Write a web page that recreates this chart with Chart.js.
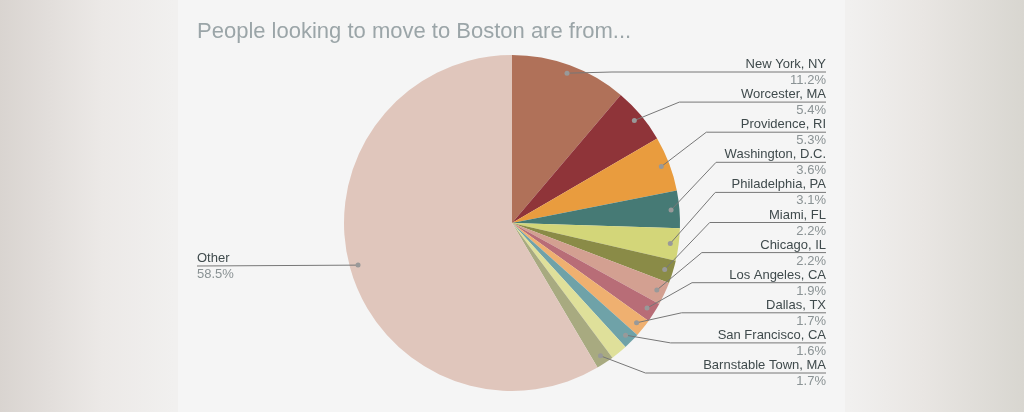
<!DOCTYPE html>
<html><head><meta charset="utf-8">
<script src="https://cdn.jsdelivr.net/npm/chart.js@4"></script>
<style>
html,body{margin:0;padding:0;width:1024px;height:412px;overflow:hidden;
background:linear-gradient(90deg,#d9d4d0 0%,#ece9e7 10%,#f1f0ef 17%,#f1f0ef 83%,#e9e6e3 90%,#d8d6d0 100%);}
#panel{position:absolute;left:178px;top:0;width:667px;height:412px;background:#f5f5f5;}
canvas{position:absolute;left:0;top:0;}
</style></head><body>
<div id="panel"></div>
<canvas id="c" width="1024" height="412"></canvas>
<script>
const categories=["New York, NY","Worcester, MA","Providence, RI","Washington, D.C.","Philadelphia, PA","Miami, FL","Chicago, IL","Los Angeles, CA","Dallas, TX","San Francisco, CA","","Barnstable Town, MA","Other"];
const values=[11.2,5.4,5.3,3.6,3.1,2.2,2.2,1.9,1.7,1.6,1.6,1.7,58.5];
const colors=["#b07159","#8f3439","#e99c3e","#467a75","#d3d679","#8a8b47","#d3a091","#b86d77","#efb070","#6fa2a8","#dfe09a","#a8aa80","#e0c6bc"];
const titleText="People looking to move to Boston are from...";
const labelPlugin={id:'lbl',afterDatasetsDraw(chart){
 const ctx=chart.ctx,meta=chart.getDatasetMeta(0);
 ctx.save();
 ctx.font='22px "Liberation Sans", Arial';ctx.fillStyle='#9ba5a8';ctx.textBaseline='alphabetic';ctx.textAlign='left';
 ctx.fillText(titleText,197,38);
 let k=0;
 meta.data.forEach((arc,i)=>{
  if(!categories[i])return;
  const mid=(arc.startAngle+arc.endAngle)/2,r=arc.outerRadius*0.95;
  const dx=arc.x+Math.cos(mid)*r,dy=arc.y+Math.sin(mid)*r;
  ctx.strokeStyle='#777';ctx.lineWidth=1;ctx.fillStyle='#888';
  ctx.font='13px "Liberation Sans", Arial';
  let ly,tx,align,kx;
  if(categories[i]==="Other"){ly=266;tx=197;align='left';
   ctx.beginPath();ctx.moveTo(dx,dy);ctx.lineTo(197,ly);ctx.stroke();
  } else {ly=72+k*30.1;tx=826;align='right';k++;
   kx=Math.min(dx+45,826);
   ctx.beginPath();ctx.moveTo(dx,dy);ctx.lineTo(kx,ly);ctx.lineTo(826,ly);ctx.stroke();}
  ctx.beginPath();ctx.fillStyle='#999';ctx.arc(dx,dy,2.5,0,Math.PI*2);ctx.fill();
  ctx.textAlign=align;ctx.fillStyle='#3f4a4c';ctx.fillText(categories[i],tx,ly-4);
  ctx.fillStyle='#8a9294';ctx.fillText(values[i].toFixed(1)+'%',tx,ly+12);
 });
 ctx.restore();}};
new Chart(document.getElementById('c'),{type:'pie',
 data:{labels:categories,datasets:[{data:values,backgroundColor:colors,borderWidth:0}]},
 options:{responsive:false,animation:false,layout:{padding:{top:55,bottom:21}},
  plugins:{legend:{display:false},tooltip:{enabled:false}}},
 plugins:[labelPlugin]});
</script></body></html>
